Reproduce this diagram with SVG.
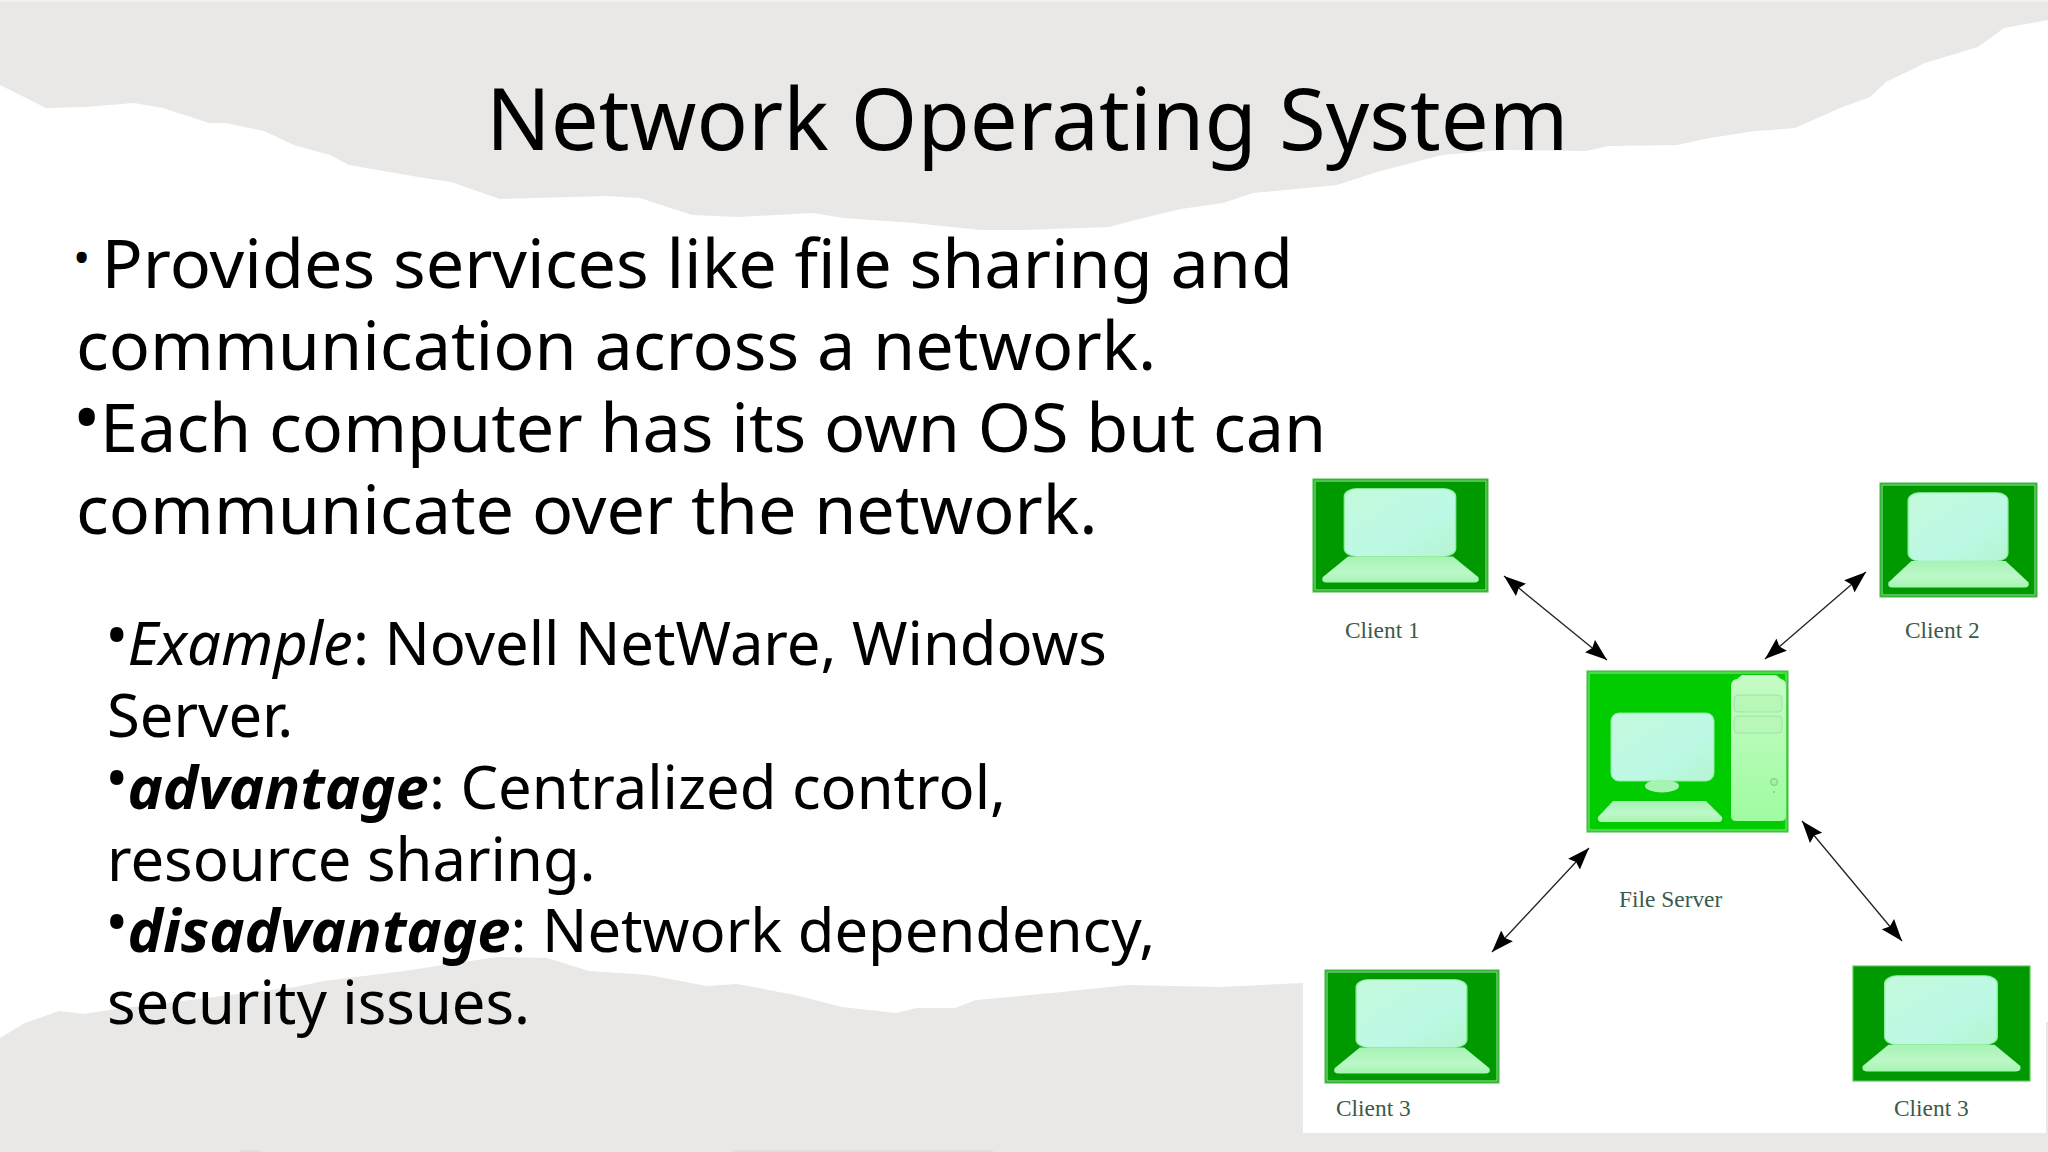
<svg xmlns="http://www.w3.org/2000/svg" xmlns:xlink="http://www.w3.org/1999/xlink" width="2048" height="1152" viewBox="0 0 2048 1152">
<style>
text{font-family:"Noto Sans","Open Sans",sans-serif;fill:#000}
.title{font-size:85.2px}
.big{font-size:68.3px}
.small{font-size:59.7px}
.bul{font-size:60px}
.i{font-style:italic}
.bi{font-style:italic;font-weight:bold}
text.lbl{font-family:"Liberation Serif",serif;font-size:23.4px;fill:#3b5a49}
.conn{stroke:#222;stroke-width:1.3;fill:none;marker-start:url(#ah);marker-end:url(#ah)}
.frame{fill:none;stroke:#86dc86;stroke-width:1.2}
.edge{fill:none;stroke:#5cc65c;stroke-width:1.2}
</style>
<defs>
<linearGradient id="scr" x1="0" y1="0" x2="1" y2="1"><stop offset="0" stop-color="#c4f9dc"/><stop offset=".6" stop-color="#bdf9e6"/><stop offset="1" stop-color="#b4f5d0"/></linearGradient>
<linearGradient id="base" x1="0" y1="0" x2="0" y2="1"><stop offset="0" stop-color="#a6f3b4"/><stop offset=".6" stop-color="#bcf8c8"/><stop offset="1" stop-color="#a4f5b0"/></linearGradient>
<linearGradient id="tower" x1="0" y1="0" x2="0" y2="1"><stop offset="0" stop-color="#c6fbc6"/><stop offset="1" stop-color="#9ffc9f"/></linearGradient>
<marker id="ah" markerUnits="userSpaceOnUse" markerWidth="24" markerHeight="17" refX="22" refY="8.5" viewBox="0 0 24 17" orient="auto-start-reverse"><path d="M0 0.5L22 8.5L0 16.5L3 8.5Z" fill="#000"/></marker>
<g id="laptop">
<rect x="17.9" y="8.5" width="63.6" height="60" rx="7" ry="7" fill="url(#scr)" stroke="#8cf09c" stroke-width=".8"/>
<path d="M20 68.5H80L94.5 87Q95.5 91.7 92 91.7H8Q4.5 91.7 5.5 87Z" fill="url(#base)"/>
</g>
</defs>
<rect width="2048" height="1152" fill="#fff"/>
<g id="paper">
<rect width="2048" height="2" fill="#f2f2f0"/>
<path fill="#e9e8e6" d="M0 2H2048V20L2004 28L1978 47L1925 63L1886 82L1870 97L1840 108L1795 128L1755 131L1710 138L1677 145L1609 146L1586 151L1501 150L1442 155L1377 172L1337 185L1253 193L1223 203L1181 209L1135 220L1109 227L1024 230L980 230L914 223L843 218L813 213L738 217L692 215L640 198L607 196L500 199L451 182L418 177L349 165L330 155L294 145L264 131L225 123L209 123L163 108L134 103L85 107L46 108L0 85Z"/>
<path fill="#e9e8e6" d="M0 1038L25 1023L59 1011L84 1014L109 1010L295 987L324 981L404 971L497 957L547 958L589 971L648 975L707 986L737 984L795 995L842 1007L896 1013L917 1008L955 1008L976 1000L1052 993L1128 985L1220 987L1303 983V1133H2046V1022H2048V1152H0Z"/>
<path d="M240 1151H261M732 1151H993" stroke="#dcdbd9" stroke-width="1.5" fill="none"/>
</g>
<g id="title"><text class="title" x="486" y="150">Network Operating System</text></g>
<g id="bullets-main">
<text x="73" y="274" style="font-size:46px">•</text>
<text class="big" x="101.5" y="288">Provides services like file sharing and</text>
<text class="big" x="76" y="370">communication across a network.</text>
<text x="73" y="444" style="font-size:73px">•</text>
<text class="big" x="100" y="452">Each computer has its own OS but can</text>
<text class="big" x="76" y="534">communicate over the network.</text>
</g>
<g id="bullets-sub">
<text class="bul" x="105.6" y="657">•</text>
<text class="small" x="127.5" y="665"><tspan class="i">Example</tspan>: Novell NetWare, Windows</text>
<text class="small" x="107" y="737">Server.</text>
<text class="bul" x="105.6" y="800">•</text>
<text class="small" x="127.5" y="809"><tspan class="bi">advantage</tspan>: Centralized control,</text>
<text class="small" x="107" y="881">resource sharing.</text>
<text class="bul" x="105.6" y="944">•</text>
<text class="small" x="127.5" y="952"><tspan class="bi">disadvantage</tspan>: Network dependency,</text>
<text class="small" x="107" y="1024">security issues.</text>
</g>
<g id="connectors">
<line class="conn" x1="1504" y1="576" x2="1607" y2="660"/>
<line class="conn" x1="1866" y1="572" x2="1765" y2="659"/>
<line class="conn" x1="1589" y1="848" x2="1492" y2="952"/>
<line class="conn" x1="1802" y1="821" x2="1902" y2="941"/>
</g>
<g id="client-1">
<rect x="1313" y="479" width="175" height="113" fill="#009a00"/>
<rect x="1313" y="479" width="175" height="113" class="edge"/>
<rect x="1315" y="481" width="171" height="109" class="frame"/>
<use xlink:href="#laptop" href="#laptop" transform="translate(1313 479) scale(1.75 1.13)"/>
<text class="lbl" x="1345" y="638">Client 1</text>
</g>
<g id="client-2">
<rect x="1880" y="483" width="157" height="114" fill="#009a00"/>
<rect x="1880" y="483" width="157" height="114" class="edge"/>
<rect x="1882" y="485" width="153" height="110" class="frame"/>
<use xlink:href="#laptop" href="#laptop" transform="translate(1880 483) scale(1.57 1.14)"/>
<text class="lbl" x="1905" y="638">Client 2</text>
</g>
<g id="file-server">
<rect x="1587" y="671" width="201" height="161" fill="#00cc00"/>
<rect x="1587" y="671" width="201" height="161" class="edge"/>
<rect x="1589" y="673" width="197" height="157" class="frame"/>
<rect x="1611" y="713" width="103" height="68" rx="8" ry="8" fill="url(#scr)" stroke="#8cf09c"/>
<ellipse cx="1662" cy="786" rx="17" ry="6.5" fill="#a6f3b4"/>
<path d="M1613 801H1706L1722 817Q1723 822 1718 822H1602Q1597 822 1598 817Z" fill="url(#base)"/>
<path d="M1731 686Q1731 680 1737 679L1742 675H1776L1781 679Q1786 680 1786 686V816Q1786 821 1781 821H1736Q1731 821 1731 816Z" fill="url(#tower)"/>
<rect x="1734" y="695" width="48" height="17" rx="4" fill="#b8f7b8" stroke="#9ae6a8"/>
<rect x="1734" y="716" width="48" height="17" rx="4" fill="#b8f7b8" stroke="#9ae6a8"/>
<circle cx="1774" cy="782" r="3.5" fill="#a4f0a4" stroke="#77c888"/>
<circle cx="1774" cy="792" r="1" fill="#77cc88"/>
<text class="lbl" x="1619" y="907">File Server</text>
</g>
<g id="client-3-left">
<rect x="1325" y="970" width="174" height="113" fill="#009a00"/>
<rect x="1325" y="970" width="174" height="113" class="edge"/>
<rect x="1327" y="972" width="170" height="109" class="frame"/>
<use xlink:href="#laptop" href="#laptop" transform="translate(1325 970) scale(1.74 1.13)"/>
<text class="lbl" x="1336" y="1116">Client 3</text>
</g>
<g id="client-3-right">
<rect x="1853" y="966" width="177" height="115" fill="#009a00"/>
<rect x="1853" y="966" width="177" height="115" class="edge"/>
<use xlink:href="#laptop" href="#laptop" transform="translate(1853 966) scale(1.77 1.15)"/>
<text class="lbl" x="1894" y="1116">Client 3</text>
</g>
</svg>
